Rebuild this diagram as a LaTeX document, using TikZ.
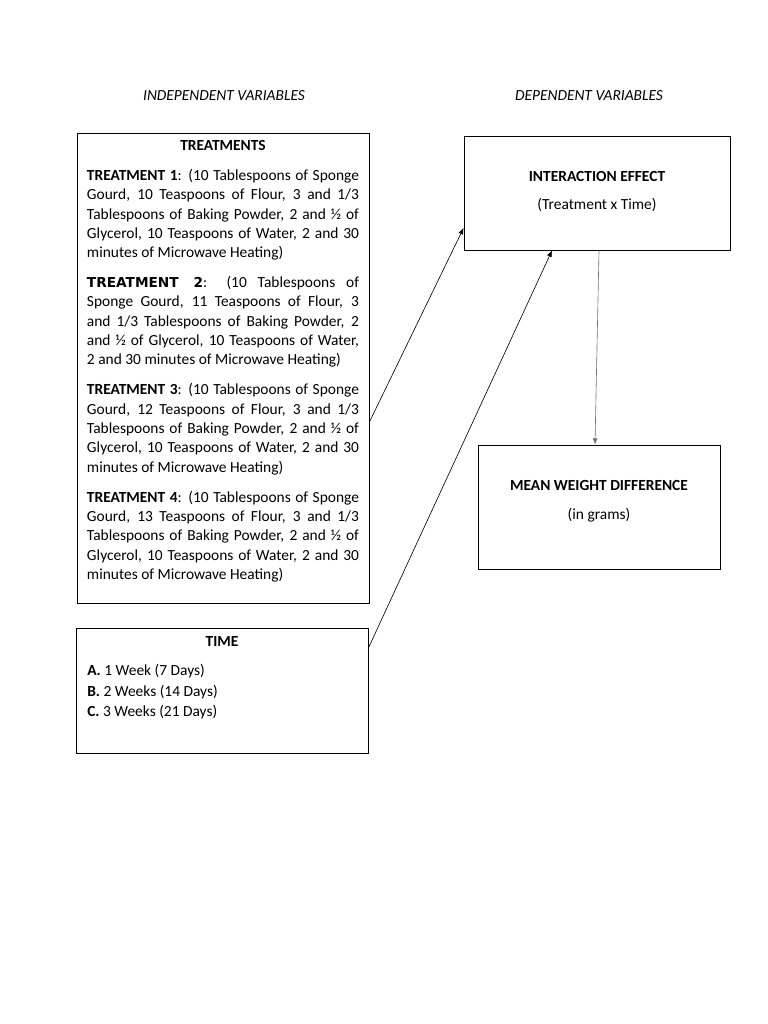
\documentclass[tikz,border=0pt]{standalone}
\usepackage{fontspec}
\setmainfont{Carlito}
\newfontfamily\dejavu{DejaVu Sans}
\usetikzlibrary{arrows.meta}
\begin{document}
\begin{tikzpicture}[x=0.797pt,y=-0.797pt]
\tikzstyle{box}=[draw, rectangle, line width=0.7pt, inner sep=0pt]
\tikzstyle{body}=[inner sep=0pt, font=\fontsize{12.3}{15.4}\selectfont]
\tikzstyle{bodybold}=[inner sep=0pt, font=\fontsize{12.3}{15.4}\selectfont\bfseries]
\tikzstyle{head}=[inner sep=0pt, font=\fontsize{12.3}{14}\selectfont\itshape]
\tikzstyle{line}=[draw, line width=0.5pt, -{Latex[length=5pt,width=4pt]}]
\useasboundingbox (0,0) rectangle (768,1024);

% Column headings
\node[head] (indep) at (224,96) {INDEPENDENT VARIABLES};
\node[head] (dep) at (589,96) {DEPENDENT VARIABLES};

% Boxes
\node[box, minimum width=232.7pt, minimum height=374.6pt] (treat) at (223,368) {};
\node[box, minimum width=232.7pt, minimum height=99.6pt] (time) at (222,690.5) {};
\node[box, minimum width=212pt, minimum height=90.9pt] (inter) at (597,193) {};
\node[box, minimum width=192.9pt, minimum height=98.8pt] (mean) at (599,507) {};

% Treatments text
\node[body, anchor=north, text width=216.8pt, align=justify] (treattext) at (223,140) {%
\parskip=8.5pt
\centerline{\bfseries TREATMENTS}\par
\textbf{TREATMENT 1}: (10 Tablespoons of Sponge\linebreak
Gourd, 10 Teaspoons of Flour, 3 and 1/3\linebreak
Tablespoons of Baking Powder, 2 and ½ of\linebreak
Glycerol, 10 Teaspoons of Water, 2 and 30\linebreak
minutes of Microwave Heating)\par
{\dejavu\fontsize{10.9}{15.4}\selectfont\bfseries TREATMENT 2}: (10 Tablespoons of\linebreak
Sponge Gourd, 11 Teaspoons of Flour, 3\linebreak
and 1/3 Tablespoons of Baking Powder, 2\linebreak
and ½ of Glycerol, 10 Teaspoons of Water,\linebreak
2 and 30 minutes of Microwave Heating)\par
\textbf{TREATMENT 3}: (10 Tablespoons of Sponge\linebreak
Gourd, 12 Teaspoons of Flour, 3 and 1/3\linebreak
Tablespoons of Baking Powder, 2 and ½ of\linebreak
Glycerol, 10 Teaspoons of Water, 2 and 30\linebreak
minutes of Microwave Heating)\par
\textbf{TREATMENT 4}: (10 Tablespoons of Sponge\linebreak
Gourd, 13 Teaspoons of Flour, 3 and 1/3\linebreak
Tablespoons of Baking Powder, 2 and ½ of\linebreak
Glycerol, 10 Teaspoons of Water, 2 and 30\linebreak
minutes of Microwave Heating)};

% Time text
\node[bodybold] (timehead) at (222,641) {TIME};
\node[body, anchor=west, align=left] (timelist) at (87,692) {%
\textbf{A.} 1 Week (7 Days)\\[1pt]
\textbf{B.} 2 Weeks (14 Days)\\[1pt]
\textbf{C.} 3 Weeks (21 Days)};

% Dependent boxes text
\node[bodybold] (interhead) at (597,176) {INTERACTION EFFECT};
\node[body] (intersub) at (597,205) {(Treatment x Time)};
\node[bodybold] (meanhead) at (599,485) {MEAN WEIGHT DIFFERENCE};
\node[body] (meansub) at (599,515) {(in grams)};

% Arrows
\draw[line] (treat.east |- 0,422) -- (inter.west |- 0,228);
\draw[line] (time.east |- 0,648) -- (inter.south -| 552,0);
\draw[line, draw=black!55] (inter.south -| 599,0) -- (mean.north -| 595,0);
\end{tikzpicture}
\end{document}
